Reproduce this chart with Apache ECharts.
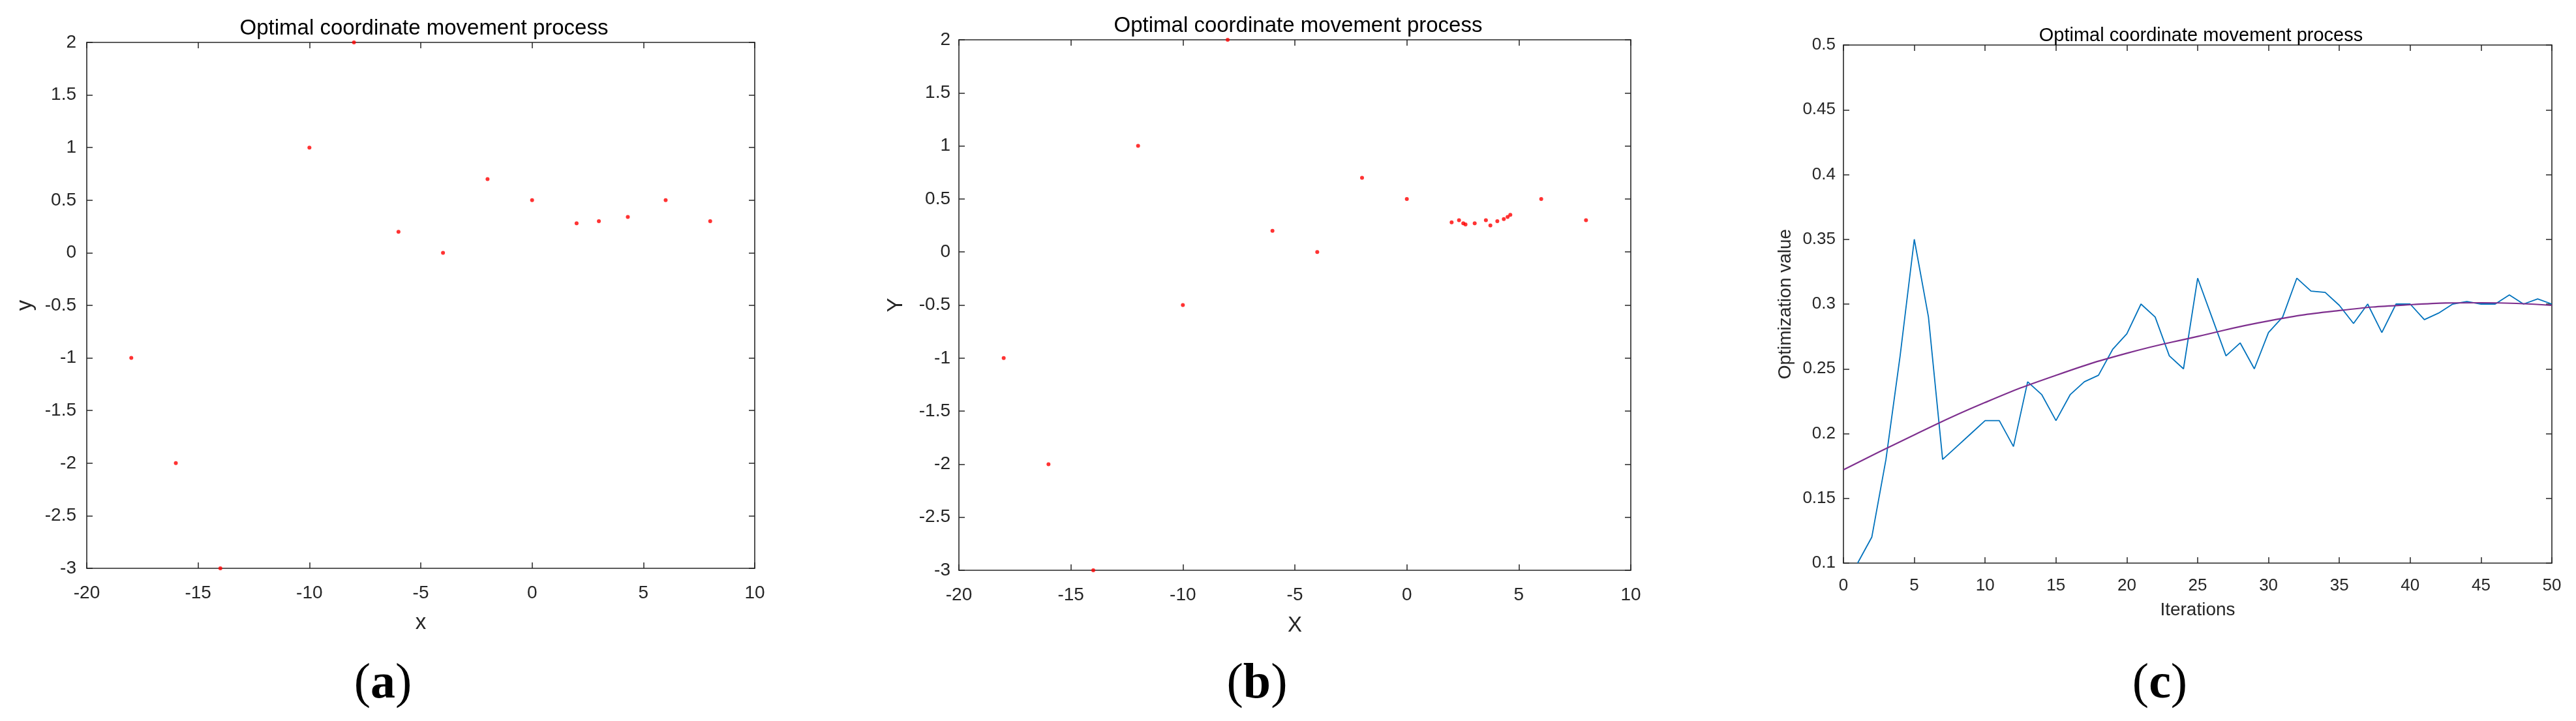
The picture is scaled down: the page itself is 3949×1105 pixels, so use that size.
<!DOCTYPE html>
<html>
<head>
<meta charset="utf-8">
<script src="https://cdn.jsdelivr.net/npm/echarts@6/dist/echarts.min.js"></script>
<style>
html,body{margin:0;padding:0;background:#fff;}
#chart{width:3949px;height:1105px;}
</style>
</head>
<body>
<div id="chart"></div>
<script>
// Panel (a) positions
const aX = [-18, -16, -14, -10, -8, -6, -4, -2, 0, 2, 3, 4.3, 6, 8];
const aY = [-1, -2, -3, 1, 2, 0.2, 0, 0.7, 0.5, 0.28, 0.3, 0.34, 0.5, 0.3];
// Panel (b) positions
const bX = [-18, -16, -14, -12, -10, -8, -6, -4, -2, 0, 2, 2.33, 2.52, 2.62, 3.03, 3.53, 3.73, 4.04, 4.33, 4.5, 4.62, 6, 8];
const bY = [-1, -2, -3, 1, -0.5, 2, 0.2, 0, 0.7, 0.5, 0.28, 0.3, 0.27, 0.26, 0.27, 0.3, 0.25, 0.29, 0.31, 0.33, 0.35, 0.5, 0.3];
// Panel (c) optimization value per iteration (1..50)
const iterations = [1,2,3,4,5,6,7,8,9,10,11,12,13,14,15,16,17,18,19,20,21,22,23,24,25,26,27,28,29,30,31,32,33,34,35,36,37,38,39,40,41,42,43,44,45,46,47,48,49,50];
const optValues = [0.10,0.12,0.18,0.26,0.35,0.29,0.18,0.19,0.20,0.21,
                   0.21,0.19,0.24,0.23,0.21,0.23,0.24,0.245,0.265,0.277,
                   0.30,0.29,0.26,0.25,0.32,0.29,0.26,0.27,0.25,0.278,
                   0.29,0.32,0.31,0.309,0.299,0.285,0.30,0.278,0.30,0.30,
                   0.288,0.293,0.30,0.302,0.30,0.30,0.307,0.30,0.304,0.30];
// Panel (c) trend curve, read at these iterations
const trendX = [0, 5, 10, 15, 20, 25, 30, 35, 40, 45, 50];
const trendY = [0.172, 0.199, 0.224, 0.245, 0.262, 0.275, 0.287, 0.295, 0.2995, 0.301, 0.299];
// tick settings
const xyTicks = {xMin: -20, xMax: 10, xStep: 5, yMin: -3, yMax: 2, yStep: 0.5};
const cTicks = {xMin: 0, xMax: 50, xStep: 5, yMin: 0.1, yMax: 0.5, yStep: 0.05};
const titles = ['Optimal coordinate movement process', 'Optimal coordinate movement process', 'Optimal coordinate movement process'];
const subLabels = ['a', 'b', 'c'];

const FONT = 'Liberation Sans';
const AX = '#262626';

function zip(xs, ys) { return xs.map((x, i) => [x, ys[i]]); }

function axisPair(kind, gridIndex, t, opts) {
  const isX = kind === 'x';
  const min = isX ? t.xMin : t.yMin, max = isX ? t.xMax : t.yMax, step = isX ? t.xStep : t.yStep;
  const base = {
    type: 'value', gridIndex, min, max, interval: step,
    axisLine: {show: true, onZero: false, lineStyle: {color: AX, width: 1.6}},
    axisTick: {show: true, inside: true, length: 9, lineStyle: {color: AX, width: 1.5}},
    splitLine: {show: false}
  };
  const main = Object.assign({}, base, {
    position: isX ? 'bottom' : 'left',
    name: opts.name, nameLocation: 'middle', nameGap: opts.nameGap,
    nameTextStyle: {fontFamily: FONT, fontSize: opts.nameSize, color: AX},
    axisLabel: {show: true, fontFamily: FONT, fontSize: opts.labelSize, color: AX, margin: opts.margin,
                formatter: v => String(Math.round(v * 1000) / 1000)}
  });
  const mirror = Object.assign({}, base, {
    position: isX ? 'top' : 'right',
    axisLabel: {show: false}
  });
  return [main, mirror];
}

const grids = [
  {left: 133, top: 65, width: 1024, height: 806},
  {left: 1470, top: 61, width: 1030, height: 813},
  {left: 2826, top: 69, width: 1086, height: 794}
].map(g => Object.assign(g, {containLabel: false, outerBoundsMode: 'none'}));

const xAxes = [], yAxes = [];
[[0, xyTicks, {name: 'x', nameGap: 67, nameSize: 33, labelSize: 28, margin: 24}, {name: 'y', nameGap: 78, nameSize: 33, labelSize: 28, margin: 16}],
 [1, xyTicks, {name: 'X', nameGap: 68, nameSize: 33, labelSize: 28, margin: 24}, {name: 'Y', nameGap: 80, nameSize: 33, labelSize: 28, margin: 13}],
 [2, cTicks, {name: 'Iterations', nameGap: 58, nameSize: 28, labelSize: 26, margin: 22}, {name: 'Optimization value', nameGap: 75, nameSize: 28, labelSize: 26, margin: 12}]
].forEach(([gi, t, xo, yo]) => {
  xAxes.push(...axisPair('x', gi, t, xo));
  yAxes.push(...axisPair('y', gi, t, yo));
});

const chart = echarts.init(document.getElementById('chart'), null, {renderer: 'canvas'});
chart.setOption({
  animation: false,
  backgroundColor: '#fff',
  title: [
    {text: titles[0], left: 645, top: 22, textAlign: 'center', textStyle: {fontFamily: FONT, fontSize: 33, fontWeight: 'normal', color: '#000'}},
    {text: titles[1], left: 1985, top: 18, textAlign: 'center', textStyle: {fontFamily: FONT, fontSize: 33, fontWeight: 'normal', color: '#000'}},
    {text: titles[2], left: 3369, top: 35, textAlign: 'center', textStyle: {fontFamily: FONT, fontSize: 29, fontWeight: 'normal', color: '#000'}}
  ],
  grid: grids,
  xAxis: xAxes,
  yAxis: yAxes,
  series: [
    {type: 'scatter', xAxisIndex: 0, yAxisIndex: 0, data: zip(aX, aY), symbol: 'circle', symbolSize: 6, itemStyle: {color: '#ff0000'}, clip: false},
    {type: 'scatter', xAxisIndex: 2, yAxisIndex: 2, data: zip(bX, bY), symbol: 'circle', symbolSize: 6, itemStyle: {color: '#ff0000'}, clip: false},
    {type: 'line', xAxisIndex: 4, yAxisIndex: 4, data: zip(iterations, optValues), showSymbol: false, symbol: 'none',
     lineStyle: {color: '#0072BD', width: 1.8}},
    {type: 'line', xAxisIndex: 4, yAxisIndex: 4, data: zip(trendX, trendY), showSymbol: false, symbol: 'none', smooth: true,
     lineStyle: {color: '#7E2F8E', width: 2.2}}
  ],
  graphic: subLabels.map((s, i) => ({
    type: 'text',
    x: [587, 1927, 3311][i],
    y: 1049,
    style: {
      text: '{p|(}{b|' + s + '}{p|)}',
      align: 'center', verticalAlign: 'middle',
      rich: {
        p: {fontFamily: 'Liberation Serif', fontSize: 76, fill: '#000', color: '#000'},
        b: {fontFamily: 'Liberation Serif', fontSize: 76, fontWeight: 'bold', fill: '#000', color: '#000'}
      }
    }
  }))
});
</script>
</body>
</html>
